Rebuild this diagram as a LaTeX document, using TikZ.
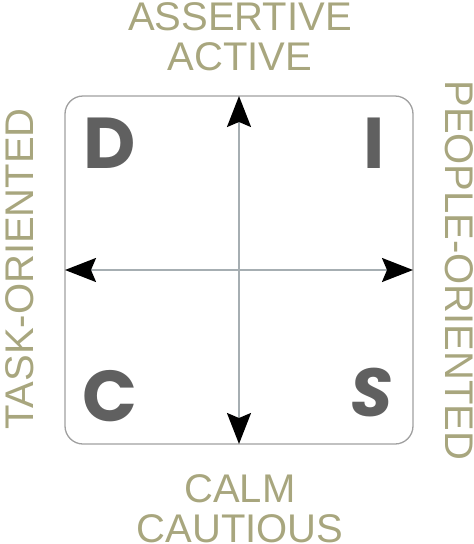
\documentclass[tikz,border=0pt]{standalone}
\usepackage{fontspec}
\setmainfont{Liberation Sans}
\newfontfamily\discfont{Poppins}
\usetikzlibrary{arrows.meta}
\definecolor{olivetext}{RGB}{168,166,126}
\definecolor{lettergray}{RGB}{96,96,96}
\definecolor{axisgray}{RGB}{166,174,178}
\definecolor{boxgray}{RGB}{160,160,160}
\tikzset{
  axislabel/.style={text=olivetext, font=\fontsize{40}{40}\selectfont, inner sep=0pt, anchor=base},
  quadletter/.style={text=lettergray, font=\discfont\bfseries\fontsize{72}{72}\selectfont, inner sep=0pt, anchor=base},
  axisline/.style={draw=axisgray, line width=2pt,
    arrows={Stealth[length=31pt, width=24pt, inset=5pt, color=black]-Stealth[length=31pt, width=24pt, inset=5pt, color=black]}},
  frame/.style={draw=boxgray, line width=1.3pt, rounded corners=18pt, minimum width=348pt, minimum height=348pt, inner sep=0pt, outer sep=0pt}
}
\begin{document}
\begin{tikzpicture}[x=1pt, y=-1pt]
\useasboundingbox (0,0) rectangle (474,544);
\node[frame] (box) at (239,270) {};
\draw[axisline] (box.north) -- (box.south);
\draw[axisline] (box.west) -- (box.east);
\node[quadletter] (d) at (110,168) {D};
\node[quadletter] (i) at (374,168) {I};
\node[quadletter] (c) at (110,421) {C};
\node[quadletter, font=\discfont\bfseries\itshape\fontsize{68}{68}\selectfont] (s) at (372,416) {S};
\node[axislabel] (assertive) at (240,30) {ASSERTIVE};
\node[axislabel] (active) at (240,70) {ACTIVE};
\node[axislabel] (calm) at (240,502) {CALM};
\node[axislabel] (cautious) at (240,542) {CAUTIOUS};
\node[axislabel, rotate=90] (task) at (33,269) {TASK-ORIENTED};
\node[axislabel, rotate=-90] (people) at (445,270.5) {PEOPLE-ORIENTED};
\end{tikzpicture}
\end{document}
